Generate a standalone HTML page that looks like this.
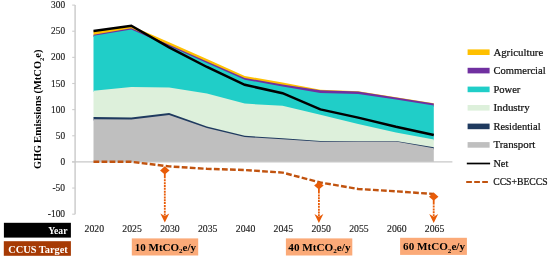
<!DOCTYPE html>
<html><head><meta charset="utf-8"><title>GHG Emissions</title>
<style>html,body{margin:0;padding:0;background:#fff}svg{display:block}</style>
</head><body>
<svg width="550" height="260" viewBox="0 0 550 260" font-family="'Liberation Serif', serif">
<rect width="550" height="260" fill="#fff"/>
<polygon points="93.50,31.00 131.31,25.70 169.12,42.20 206.93,59.00 244.74,76.00 282.55,82.50 320.36,89.80 358.17,91.20 395.98,97.20 433.79,103.30 433.79,104.70 395.98,98.70 358.17,92.70 320.36,91.40 282.55,85.80 244.74,79.20 206.93,62.80 169.12,46.00 131.31,29.40 93.50,35.90" fill="#FFC000"/>
<polygon points="93.50,34.70 131.31,28.20 169.12,44.80 206.93,61.60 244.74,78.00 282.55,84.60 320.36,90.20 358.17,91.50 395.98,97.50 433.79,103.50 433.79,106.80 395.98,100.80 358.17,95.10 320.36,94.10 282.55,87.70 244.74,80.90 206.93,64.10 169.12,47.20 131.31,30.60 93.50,36.90" fill="#7030A0"/>
<polygon points="93.50,35.70 131.31,29.40 169.12,46.00 206.93,62.90 244.74,79.70 282.55,86.50 320.36,92.90 358.17,93.90 395.98,99.60 433.79,105.60 433.79,140.60 395.98,133.60 358.17,125.20 320.36,115.90 282.55,107.00 244.74,104.80 206.93,94.70 169.12,88.70 131.31,88.20 93.50,91.90" fill="#20CEC8"/>
<polygon points="93.50,90.70 131.31,87.00 169.12,87.50 206.93,93.50 244.74,103.60 282.55,105.80 320.36,114.70 358.17,124.00 395.98,132.40 433.79,139.40 433.79,148.50 395.98,142.10 358.17,142.10 320.36,142.20 282.55,139.50 244.74,137.00 206.93,127.60 169.12,114.10 131.31,118.70 93.50,118.10" fill="#DDF0DB"/>
<polygon points="93.50,116.90 131.31,117.50 169.12,112.90 206.93,126.40 244.74,135.80 282.55,138.30 320.36,141.00 358.17,140.90 395.98,140.90 433.79,147.30 433.79,149.40 395.98,142.80 358.17,142.80 320.36,143.00 282.55,140.50 244.74,138.20 206.93,129.10 169.12,116.20 131.31,120.60 93.50,120.40" fill="#1F3A5F"/>
<polygon points="93.50,119.20 131.31,119.40 169.12,115.00 206.93,127.90 244.74,137.00 282.55,139.30 320.36,141.80 358.17,141.60 395.98,141.60 433.79,148.20 433.79,161.9 93.50,161.9" fill="#BFBFBF"/>
<line x1="75.1" y1="5.1" x2="75.1" y2="214.2" stroke="#CDCDCD" stroke-width="1.5"/>
<line x1="72" y1="161.9" x2="452.4" y2="161.9" stroke="#C8C8C8" stroke-width="1.2"/>
<line x1="72.2" y1="5.10" x2="75.1" y2="5.10" stroke="#CDCDCD" stroke-width="1.1"/>
<text x="65.1" y="8.20" font-size="10.5" text-anchor="end" fill="#1a1a1a" stroke="#1a1a1a" stroke-width="0.15" textLength="14.01" lengthAdjust="spacingAndGlyphs">300</text>
<line x1="72.2" y1="31.23" x2="75.1" y2="31.23" stroke="#CDCDCD" stroke-width="1.1"/>
<text x="65.1" y="34.34" font-size="10.5" text-anchor="end" fill="#1a1a1a" stroke="#1a1a1a" stroke-width="0.15" textLength="14.01" lengthAdjust="spacingAndGlyphs">250</text>
<line x1="72.2" y1="57.37" x2="75.1" y2="57.37" stroke="#CDCDCD" stroke-width="1.1"/>
<text x="65.1" y="60.47" font-size="10.5" text-anchor="end" fill="#1a1a1a" stroke="#1a1a1a" stroke-width="0.15" textLength="14.01" lengthAdjust="spacingAndGlyphs">200</text>
<line x1="72.2" y1="83.50" x2="75.1" y2="83.50" stroke="#CDCDCD" stroke-width="1.1"/>
<text x="65.1" y="86.60" font-size="10.5" text-anchor="end" fill="#1a1a1a" stroke="#1a1a1a" stroke-width="0.15" textLength="14.01" lengthAdjust="spacingAndGlyphs">150</text>
<line x1="72.2" y1="109.64" x2="75.1" y2="109.64" stroke="#CDCDCD" stroke-width="1.1"/>
<text x="65.1" y="112.74" font-size="10.5" text-anchor="end" fill="#1a1a1a" stroke="#1a1a1a" stroke-width="0.15" textLength="14.01" lengthAdjust="spacingAndGlyphs">100</text>
<line x1="72.2" y1="135.78" x2="75.1" y2="135.78" stroke="#CDCDCD" stroke-width="1.1"/>
<text x="65.1" y="138.88" font-size="10.5" text-anchor="end" fill="#1a1a1a" stroke="#1a1a1a" stroke-width="0.15" textLength="9.34" lengthAdjust="spacingAndGlyphs">50</text>
<line x1="72.2" y1="161.91" x2="75.1" y2="161.91" stroke="#CDCDCD" stroke-width="1.1"/>
<text x="65.1" y="165.01" font-size="10.5" text-anchor="end" fill="#1a1a1a" stroke="#1a1a1a" stroke-width="0.15" textLength="4.67" lengthAdjust="spacingAndGlyphs">0</text>
<line x1="72.2" y1="188.05" x2="75.1" y2="188.05" stroke="#CDCDCD" stroke-width="1.1"/>
<text x="65.1" y="191.15" font-size="10.5" text-anchor="end" fill="#1a1a1a" stroke="#1a1a1a" stroke-width="0.15" textLength="12.64" lengthAdjust="spacingAndGlyphs">-50</text>
<line x1="72.2" y1="214.18" x2="75.1" y2="214.18" stroke="#CDCDCD" stroke-width="1.1"/>
<text x="65.1" y="217.28" font-size="10.5" text-anchor="end" fill="#1a1a1a" stroke="#1a1a1a" stroke-width="0.15" textLength="17.31" lengthAdjust="spacingAndGlyphs">-100</text>
<polyline points="93.50,31.00 131.31,25.70 169.12,47.40 206.93,67.00 244.74,84.80 282.55,93.20 320.36,109.40 358.17,117.60 395.98,126.80 433.79,135.00" fill="none" stroke="#000" stroke-width="2.5" stroke-linejoin="miter"/>
<polyline points="93.50,161.80 131.31,161.80 169.12,166.40 206.93,168.80 244.74,170.00 282.55,172.60 320.36,182.50 358.17,189.00 395.98,191.30 433.79,194.00" fill="none" stroke="#C1530F" stroke-width="2.4" stroke-dasharray="5.75 2.3" stroke-linejoin="round"/>
<polygon points="160.05,170.4 164.8,166.3 169.55,170.4 164.8,174.5" fill="#E85C08"/>
<line x1="164.8" y1="173.4" x2="164.8" y2="178.3" stroke="#E85C08" stroke-width="1.8"/>
<line x1="164.8" y1="179.3" x2="164.8" y2="215.9" stroke="#E85C08" stroke-width="1.8" stroke-dasharray="2.0 0.85"/>
<polygon points="164.8,222.5 160.35000000000002,213.5 164.8,216.1 169.25,213.5" fill="#E85C08"/>
<polygon points="314.15,185.5 318.9,181.4 323.65,185.5 318.9,189.6" fill="#E85C08"/>
<line x1="318.9" y1="188.5" x2="318.9" y2="193.4" stroke="#E85C08" stroke-width="1.8"/>
<line x1="318.9" y1="194.4" x2="318.9" y2="216.5" stroke="#E85C08" stroke-width="1.8" stroke-dasharray="2.0 0.85"/>
<polygon points="318.9,223.1 314.45,214.1 318.9,216.7 323.34999999999997,214.1" fill="#E85C08"/>
<polygon points="428.95,196.7 433.7,192.6 438.45,196.7 433.7,200.79999999999998" fill="#E85C08"/>
<line x1="433.7" y1="199.7" x2="433.7" y2="204.6" stroke="#E85C08" stroke-width="1.8"/>
<line x1="433.7" y1="205.6" x2="433.7" y2="216.5" stroke="#E85C08" stroke-width="1.8" stroke-dasharray="2.0 0.85"/>
<polygon points="433.7,223.1 429.25,214.1 433.7,216.7 438.15,214.1" fill="#E85C08"/>
<text x="94.30" y="231.8" font-size="10.8" text-anchor="middle" fill="#1a1a1a" stroke="#1a1a1a" stroke-width="0.15" textLength="19.5" lengthAdjust="spacingAndGlyphs">2020</text>
<text x="132.11" y="231.8" font-size="10.8" text-anchor="middle" fill="#1a1a1a" stroke="#1a1a1a" stroke-width="0.15" textLength="19.5" lengthAdjust="spacingAndGlyphs">2025</text>
<text x="169.92" y="231.8" font-size="10.8" text-anchor="middle" fill="#1a1a1a" stroke="#1a1a1a" stroke-width="0.15" textLength="19.5" lengthAdjust="spacingAndGlyphs">2030</text>
<text x="207.73" y="231.8" font-size="10.8" text-anchor="middle" fill="#1a1a1a" stroke="#1a1a1a" stroke-width="0.15" textLength="19.5" lengthAdjust="spacingAndGlyphs">2035</text>
<text x="245.54" y="231.8" font-size="10.8" text-anchor="middle" fill="#1a1a1a" stroke="#1a1a1a" stroke-width="0.15" textLength="19.5" lengthAdjust="spacingAndGlyphs">2040</text>
<text x="283.35" y="231.8" font-size="10.8" text-anchor="middle" fill="#1a1a1a" stroke="#1a1a1a" stroke-width="0.15" textLength="19.5" lengthAdjust="spacingAndGlyphs">2045</text>
<text x="321.16" y="231.8" font-size="10.8" text-anchor="middle" fill="#1a1a1a" stroke="#1a1a1a" stroke-width="0.15" textLength="19.5" lengthAdjust="spacingAndGlyphs">2050</text>
<text x="358.97" y="231.8" font-size="10.8" text-anchor="middle" fill="#1a1a1a" stroke="#1a1a1a" stroke-width="0.15" textLength="19.5" lengthAdjust="spacingAndGlyphs">2055</text>
<text x="396.78" y="231.8" font-size="10.8" text-anchor="middle" fill="#1a1a1a" stroke="#1a1a1a" stroke-width="0.15" textLength="19.5" lengthAdjust="spacingAndGlyphs">2060</text>
<text x="434.59" y="231.8" font-size="10.8" text-anchor="middle" fill="#1a1a1a" stroke="#1a1a1a" stroke-width="0.15" textLength="19.5" lengthAdjust="spacingAndGlyphs">2065</text>
<text transform="translate(41.4,169.0) rotate(-90)" font-size="11" font-weight="bold" fill="#000" textLength="24.0" lengthAdjust="spacingAndGlyphs">GHG</text>
<text transform="translate(41.4,143.0) rotate(-90)" font-size="11" font-weight="bold" fill="#000" textLength="47.2" lengthAdjust="spacingAndGlyphs">Emissions</text>
<text transform="translate(41.4,93.5) rotate(-90)" font-size="11" font-weight="bold" fill="#000" textLength="44.0" lengthAdjust="spacingAndGlyphs">(MtCO<tspan font-size="7" dy="2.2">2</tspan><tspan dy="-2.2">e)</tspan></text>
<rect x="467.6" y="49.40" width="22" height="5.6" fill="#FFC000"/>
<text x="493.4" y="55.50" font-size="11" fill="#111" stroke="#111" stroke-width="0.22" textLength="49.8" lengthAdjust="spacingAndGlyphs">Agriculture</text>
<rect x="467.6" y="67.80" width="22" height="5.6" fill="#7030A0"/>
<text x="493.4" y="73.90" font-size="11" fill="#111" stroke="#111" stroke-width="0.22" textLength="52.3" lengthAdjust="spacingAndGlyphs">Commercial</text>
<rect x="467.6" y="86.60" width="22" height="5.6" fill="#20CEC8"/>
<text x="493.4" y="92.70" font-size="11" fill="#111" stroke="#111" stroke-width="0.22" textLength="27.0" lengthAdjust="spacingAndGlyphs">Power</text>
<rect x="467.6" y="105.00" width="22" height="5.6" fill="#DDF0DB"/>
<text x="493.4" y="111.10" font-size="11" fill="#111" stroke="#111" stroke-width="0.22" textLength="36.3" lengthAdjust="spacingAndGlyphs">Industry</text>
<rect x="467.6" y="123.60" width="22" height="5.6" fill="#1F3A5F"/>
<text x="493.4" y="129.70" font-size="11" fill="#111" stroke="#111" stroke-width="0.22" textLength="47.2" lengthAdjust="spacingAndGlyphs">Residential</text>
<rect x="467.6" y="142.10" width="22" height="5.6" fill="#BFBFBF"/>
<text x="493.4" y="148.20" font-size="11" fill="#111" stroke="#111" stroke-width="0.22" textLength="42.0" lengthAdjust="spacingAndGlyphs">Transport</text>
<line x1="466.8" y1="163.5" x2="490.1" y2="163.5" stroke="#000" stroke-width="1.7"/>
<text x="493.4" y="166.8" font-size="11" fill="#111" stroke="#111" stroke-width="0.22" textLength="14.9" lengthAdjust="spacingAndGlyphs">Net</text>
<line x1="466.2" y1="182" x2="488" y2="182" stroke="#C1530F" stroke-width="2.1" stroke-dasharray="5.7 2.3"/>
<text x="493.2" y="185.3" font-size="11" fill="#111" stroke="#111" stroke-width="0.22" textLength="54.4" lengthAdjust="spacingAndGlyphs">CCS+BECCS</text>
<rect x="3.9" y="222.8" width="67" height="14.8" fill="#000"/>
<text x="67.5" y="234.2" font-size="11" font-weight="bold" fill="#fff" text-anchor="end" textLength="19.3" lengthAdjust="spacingAndGlyphs">Year</text>
<rect x="3.8" y="241.2" width="67.1" height="14.6" fill="#A63A04"/>
<text x="67.8" y="252.5" font-size="11" font-weight="bold" fill="#fff" text-anchor="end" textLength="59.6" lengthAdjust="spacingAndGlyphs">CCUS Target</text>
<rect x="131.8" y="238.40" width="66.40" height="17.1" fill="#FBAA78"/>
<text x="134.7" y="250.90" font-size="11" font-weight="bold" fill="#000" textLength="61.40" lengthAdjust="spacingAndGlyphs">10 MtCO<tspan font-size="7" dy="2.2">2</tspan><tspan dy="-2.2">e/y</tspan></text>
<rect x="285.9" y="238.40" width="66.40" height="17.1" fill="#FBAA78"/>
<text x="288.3" y="250.90" font-size="11" font-weight="bold" fill="#000" textLength="62.20" lengthAdjust="spacingAndGlyphs">40 MtCO<tspan font-size="7" dy="2.2">2</tspan><tspan dy="-2.2">e/y</tspan></text>
<rect x="400.1" y="237.80" width="66.80" height="17.1" fill="#FBAA78"/>
<text x="403.1" y="250.30" font-size="11" font-weight="bold" fill="#000" textLength="61.90" lengthAdjust="spacingAndGlyphs">60 MtCO<tspan font-size="7" dy="2.2">2</tspan><tspan dy="-2.2">e/y</tspan></text>
</svg>
</body></html>
